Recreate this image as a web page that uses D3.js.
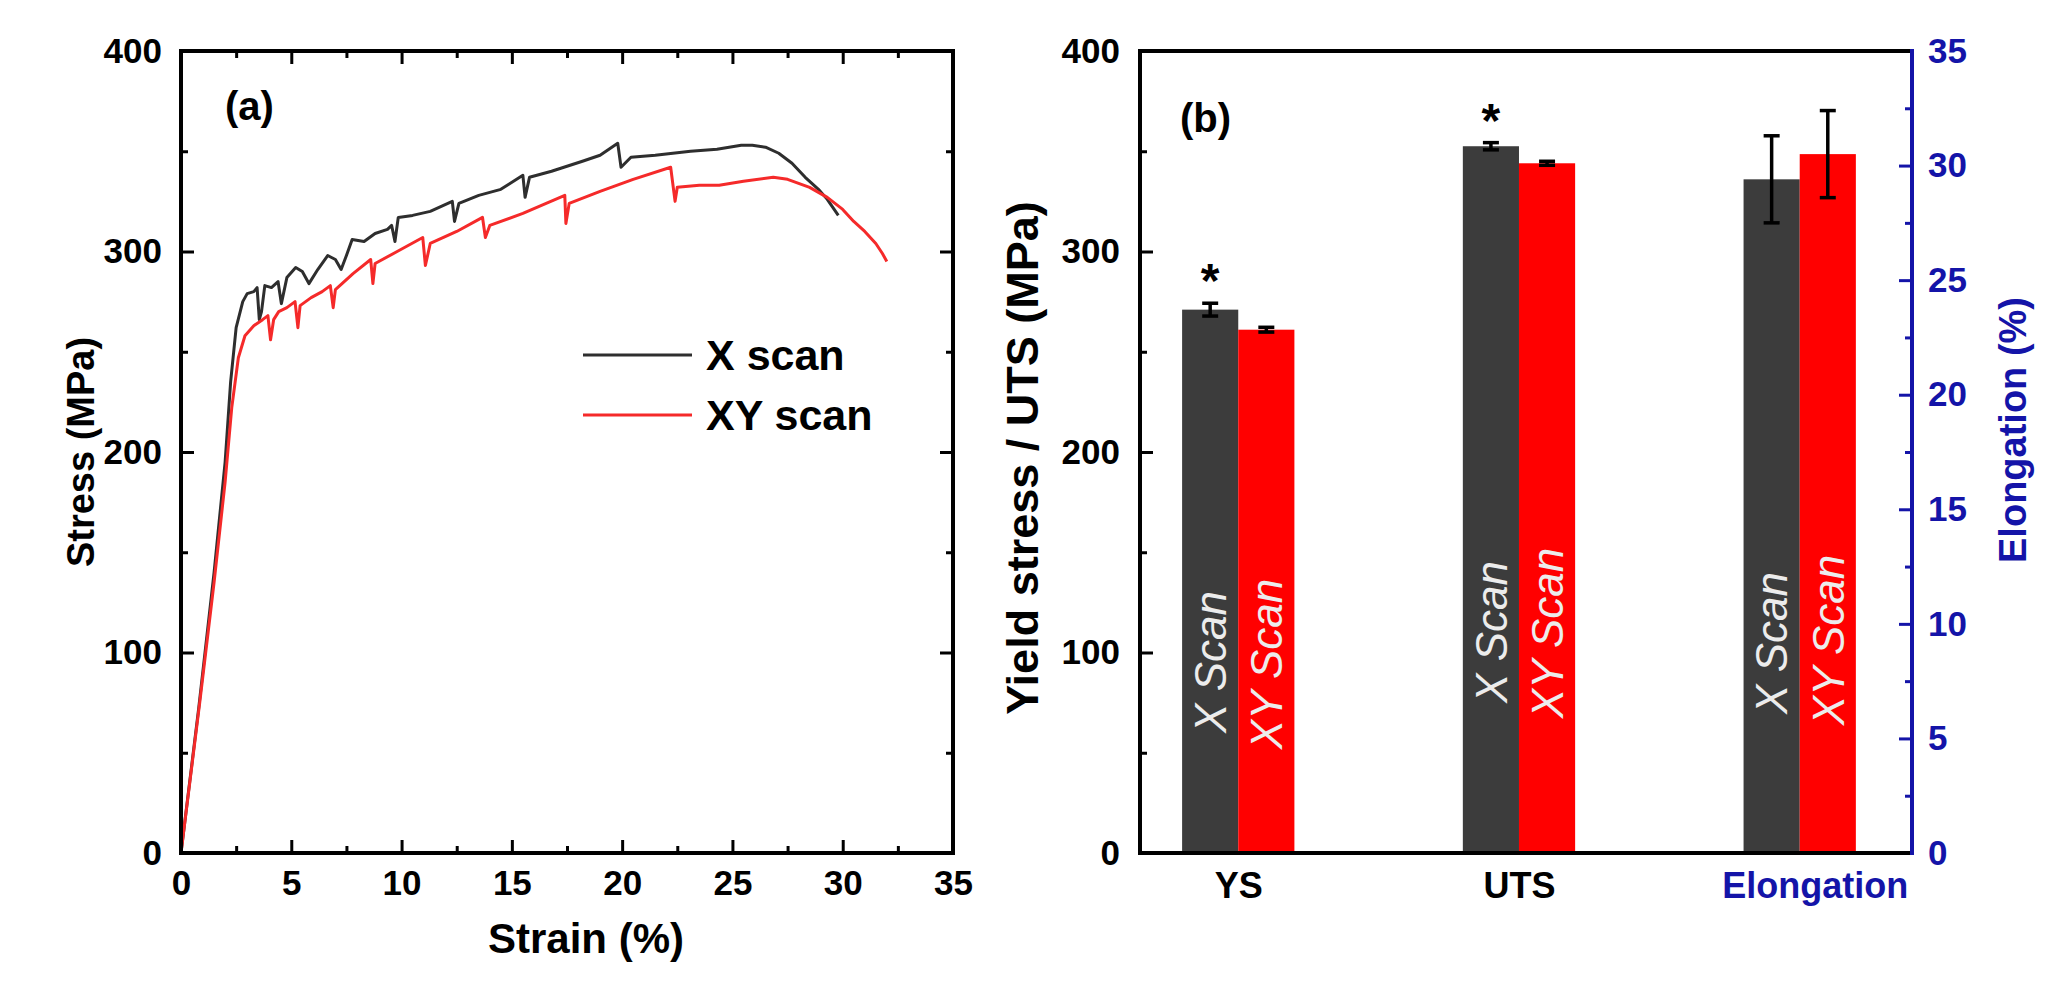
<!DOCTYPE html>
<html>
<head>
<meta charset="utf-8">
<script src="https://cdn.jsdelivr.net/npm/d3@7/dist/d3.min.js"></script>
<style>
  html,body{margin:0;padding:0;background:#fff;}
  svg{display:block;}
  text{font-family:"Liberation Sans",Arial,sans-serif;}
</style>
</head>
<body>
<svg id="chart" width="2049" height="988"></svg>
<script>
// ---------------- DATA ----------------
// Panel (a): stress-strain curves, [strain %, stress MPa]
const xScanCurve = [
  [0,0],[0.8,72],[1.5,140],[2.0,195],[2.25,235],[2.5,262],[2.8,275],[3.0,279],[3.3,280],[3.45,282],[3.55,266],[3.65,270],[3.8,283],
  [4.1,282],[4.4,285],[4.55,274],[4.8,287],[5.2,292],[5.5,290],[5.8,284],[6.2,291],[6.65,298],[7.0,296],
  [7.26,291],[7.5,298],[7.76,306],[8.3,305],[8.8,309],[9.36,311],[9.55,313],[9.7,305],[9.85,317],
  [10.5,318],[11.3,320],[12.3,325],[12.4,315],[12.6,324],[13.5,328],[14.5,331],[15.5,338],[15.6,327],
  [15.8,337],[16.8,340],[18.2,345],[19.0,348],[19.8,354],[19.95,342],[20.4,347],[21.5,348],[23.1,350],
  [24.3,351],[25.4,353],[25.9,353],[26.5,352],[27.1,349],[27.7,344],[28.3,337],[28.9,331],[29.3,326],[29.8,318]
];
const xyScanCurve = [
  [0,0],[0.86,76],[1.5,135],[2.0,185],[2.3,222],[2.6,247],[2.9,258],[3.3,263],[3.7,266],[3.94,268],[4.06,256],
  [4.2,266],[4.43,270],[4.8,272],[5.17,275],[5.3,262],[5.4,273],[5.9,277],[6.4,280],[6.77,283],[6.9,272],
  [7.0,281],[7.8,289],[8.6,296],[8.7,284],[8.8,294],[9.8,300],[10.96,307],[11.08,293],[11.3,304],[12.5,310],
  [13.67,317],[13.8,307],[14.0,313],[15.5,319],[17.4,328],[17.45,314],[17.6,324],[19.0,330],[20.5,336],
  [22.2,342],[22.4,325],[22.5,332],[23.5,333],[24.4,333],[25.5,335],[26.85,337],[27.5,336],[28.5,332],
  [29.3,327],[30.0,321],[30.5,315],[31.0,310],[31.5,304],[31.8,299],[32.0,295]
];
const curveNames = ["X scan","XY scan"];
const strainTicks = [0,5,10,15,20,25,30,35];
const stressTicks = [0,100,200,300,400];

// Panel (b): bar chart
const categories = ["YS","UTS","Elongation"];
const xScanValues  = [271, 352.5, 29.4];
const xScanErrors  = [3.2, 1.8, 1.9];
const xyScanValues = [261, 344, 30.5];
const xyScanErrors = [1.2, 1.0, 1.9];
const significant  = [true, true, false];   // asterisk over X scan bar
const barLabels    = ["X Scan","XY Scan"];
const elongTicks   = [0,5,10,15,20,25,30,35];

// ---------------- LAYOUT ----------------
const svg = d3.select("#chart");
const FONT = '"Liberation Sans",Arial,sans-serif';
const BLUE = "#1414a8";
const GREY = "#3c3c3c";
const RED  = "#ff0000";

const PA = {x0:181, x1:953, y0:51, y1:853};
const PB = {x0:1140, x1:1912, y0:51, y1:853};

function styleAxis(g, color, fs){
  g.selectAll(".domain").remove();
  g.selectAll(".tick line").attr("stroke", color).attr("stroke-width", 3);
  g.selectAll(".tick text").attr("fill", color).attr("font-size", fs)
    .attr("font-weight","bold").attr("font-family", FONT);
}
function minorValues(major, step){
  const out=[]; for(let i=0;i<major.length-1;i++) out.push(major[i]+step/2); return out;
}

// ================= Panel (a) =================
const xa = d3.scaleLinear().domain([0,35]).range([PA.x0, PA.x1]);
const ya = d3.scaleLinear().domain([0,400]).range([PA.y1, PA.y0]);
const ga = svg.append("g");

ga.append("g").attr("transform",`translate(0,${PA.y1})`)
  .call(d3.axisBottom(xa).tickValues(strainTicks).tickSize(-13).tickPadding(17).tickFormat(d3.format("d")))
  .call(g=>styleAxis(g,"#000",35));
ga.append("g").attr("transform",`translate(0,${PA.y1})`)
  .call(d3.axisBottom(xa).tickValues(minorValues(strainTicks,5)).tickSize(-7).tickFormat(""))
  .call(g=>styleAxis(g,"#000",35));
ga.append("g").attr("transform",`translate(0,${PA.y0})`)
  .call(d3.axisTop(xa).tickValues(strainTicks).tickSize(-13).tickFormat(""))
  .call(g=>styleAxis(g,"#000",35));
ga.append("g").attr("transform",`translate(0,${PA.y0})`)
  .call(d3.axisTop(xa).tickValues(minorValues(strainTicks,5)).tickSize(-7).tickFormat(""))
  .call(g=>styleAxis(g,"#000",35));
ga.append("g").attr("transform",`translate(${PA.x0},0)`)
  .call(d3.axisLeft(ya).tickValues(stressTicks).tickSize(-13).tickPadding(19))
  .call(g=>styleAxis(g,"#000",35));
ga.append("g").attr("transform",`translate(${PA.x0},0)`)
  .call(d3.axisLeft(ya).tickValues(minorValues(stressTicks,100)).tickSize(-7).tickFormat(""))
  .call(g=>styleAxis(g,"#000",35));
ga.append("g").attr("transform",`translate(${PA.x1},0)`)
  .call(d3.axisRight(ya).tickValues(stressTicks).tickSize(-13).tickFormat(""))
  .call(g=>styleAxis(g,"#000",35));
ga.append("g").attr("transform",`translate(${PA.x1},0)`)
  .call(d3.axisRight(ya).tickValues(minorValues(stressTicks,100)).tickSize(-7).tickFormat(""))
  .call(g=>styleAxis(g,"#000",35));

// curves
const line = d3.line().x(d=>xa(d[0])).y(d=>ya(d[1]));
ga.append("path").datum(xScanCurve).attr("d",line)
  .attr("fill","none").attr("stroke","#2e2e2e").attr("stroke-width",3).attr("stroke-linejoin","round");
ga.append("path").datum(xyScanCurve).attr("d",line)
  .attr("fill","none").attr("stroke","#f52a2a").attr("stroke-width",3).attr("stroke-linejoin","round");

// frame
ga.append("rect").attr("x",PA.x0).attr("y",PA.y0).attr("width",PA.x1-PA.x0).attr("height",PA.y1-PA.y0)
  .attr("fill","none").attr("stroke","#000").attr("stroke-width",4);

// legend
const legColors = ["#2e2e2e","#f52a2a"];
curveNames.forEach((n,i)=>{
  const y = 355 + i*60;
  ga.append("line").attr("x1",583).attr("x2",692).attr("y1",y).attr("y2",y)
    .attr("stroke",legColors[i]).attr("stroke-width",3);
  ga.append("text").attr("x",706).attr("y",y).attr("dy","0.36em")
    .attr("font-size",43).attr("font-weight","bold").text(n);
});

// labels
ga.append("text").attr("x",225).attr("y",120).attr("font-size",40).attr("font-weight","bold").text("(a)");
ga.append("text").attr("x",586).attr("y",953).attr("text-anchor","middle")
  .attr("font-size",42).attr("font-weight","bold").text("Strain (%)");
ga.append("text").attr("transform",`translate(80,452) rotate(-90)`).attr("dy","0.36em")
  .attr("text-anchor","middle").attr("font-size",38).attr("font-weight","bold").text("Stress (MPa)");

// ================= Panel (b) =================
const xb = d3.scaleLinear().domain([-0.35,2.4]).range([PB.x0, PB.x1]);
const yb = d3.scaleLinear().domain([0,400]).range([PB.y1, PB.y0]);
const yr = d3.scaleLinear().domain([0,35]).range([PB.y1, PB.y0]);
const gb = svg.append("g");
const bw = 0.2; // bar width in category units

categories.forEach((c,i)=>{
  const ys = i===2 ? yr : yb;
  const cx = xb(i);
  const w = xb(bw)-xb(0);
  const vals = [xScanValues[i], xyScanValues[i]];
  const errs = [xScanErrors[i], xyScanErrors[i]];
  const cols = [GREY, RED];
  vals.forEach((v,k)=>{
    const x = k===0 ? cx-w : cx;
    gb.append("rect").attr("x",x).attr("y",ys(v)).attr("width",w).attr("height",ys(0)-ys(v))
      .attr("fill",cols[k]);
  });
  vals.forEach((v,k)=>{
    const bxc = k===0 ? cx-w/2 : cx+w/2;
    const yc = [[662,664],[632,633],[643,640]][i][k];
    gb.append("text").attr("transform",`translate(${bxc},${yc}) rotate(-90)`)
      .attr("dy","0.36em").attr("text-anchor","middle").attr("font-size",44)
      .attr("font-style","italic").attr("fill","#ececec").text(barLabels[k]);
  });
  vals.forEach((v,k)=>{
    const bxc = k===0 ? cx-w/2 : cx+w/2;
    const e = errs[k];
    const g = gb.append("g").attr("stroke","#000").attr("stroke-width",3.5);
    g.append("line").attr("x1",bxc).attr("x2",bxc).attr("y1",ys(v+e)).attr("y2",ys(v-e));
    g.append("line").attr("x1",bxc-8).attr("x2",bxc+8).attr("y1",ys(v+e)).attr("y2",ys(v+e));
    g.append("line").attr("x1",bxc-8).attr("x2",bxc+8).attr("y1",ys(v-e)).attr("y2",ys(v-e));
  });
  if(significant[i]){
    const bxc = cx-w/2;
    gb.append("text").attr("x",bxc).attr("y",ys(xScanValues[i]+xScanErrors[i])-6)
      .attr("text-anchor","middle").attr("font-size",48).attr("font-weight","bold").text("*");
  }
});

// left axis
gb.append("g").attr("transform",`translate(${PB.x0},0)`)
  .call(d3.axisLeft(yb).tickValues(stressTicks).tickSize(-13).tickPadding(20))
  .call(g=>styleAxis(g,"#000",35));
gb.append("g").attr("transform",`translate(${PB.x0},0)`)
  .call(d3.axisLeft(yb).tickValues(minorValues(stressTicks,100)).tickSize(-7).tickFormat(""))
  .call(g=>styleAxis(g,"#000",35));
// right axis (blue)
gb.append("g").attr("transform",`translate(${PB.x1},0)`)
  .call(d3.axisRight(yr).tickValues(elongTicks).tickSize(-13).tickPadding(16))
  .call(g=>styleAxis(g,BLUE,35));
gb.append("g").attr("transform",`translate(${PB.x1},0)`)
  .call(d3.axisRight(yr).tickValues(minorValues(elongTicks,5)).tickSize(-7).tickFormat(""))
  .call(g=>styleAxis(g,BLUE,35));
// category axis
gb.append("g").attr("transform",`translate(0,${PB.y1})`)
  .call(d3.axisBottom(xb).tickValues([0,1,2]).tickSize(0).tickPadding(19).tickFormat(i=>categories[i]))
  .call(g=>styleAxis(g,"#000",36))
  .call(g=>g.selectAll(".tick text").filter(i=>i===2).attr("fill",BLUE).attr("dx",15));

// frame
gb.append("path").attr("d",`M${PB.x1},${PB.y0}H${PB.x0}V${PB.y1}H${PB.x1}`)
  .attr("fill","none").attr("stroke","#000").attr("stroke-width",4).attr("stroke-linecap","square");
gb.append("line").attr("x1",PB.x1).attr("x2",PB.x1).attr("y1",PB.y0-2).attr("y2",PB.y1+2)
  .attr("stroke",BLUE).attr("stroke-width",4);

// labels
gb.append("text").attr("x",1180).attr("y",132).attr("font-size",40).attr("font-weight","bold").text("(b)");
gb.append("text").attr("transform",`translate(1022,458) rotate(-90)`).attr("dy","0.36em")
  .attr("text-anchor","middle").attr("font-size",45).attr("font-weight","bold").text("Yield stress / UTS (MPa)");
gb.append("text").attr("transform",`translate(2012,430) rotate(-90)`).attr("dy","0.36em")
  .attr("text-anchor","middle").attr("font-size",38).attr("font-weight","bold").attr("fill",BLUE).text("Elongation (%)");
</script>
</body>
</html>
